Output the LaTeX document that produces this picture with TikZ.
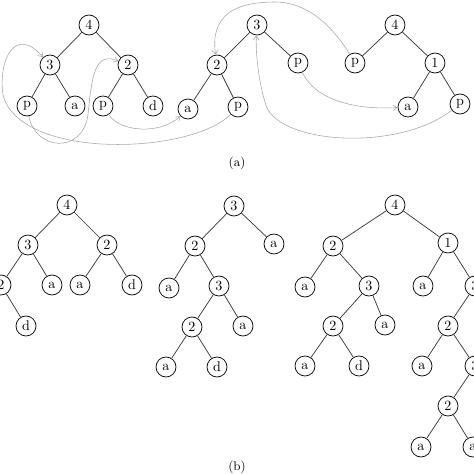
\documentclass[tikz,border=0pt]{standalone}
\usepackage{amsmath, amssymb}
\usepackage{tikz}
\usetikzlibrary{arrows.meta}

\begin{document}
\begin{tikzpicture}[x=0.025cm, y=-0.025cm,
    vert/.style={circle, draw, line width=0.5pt, minimum size=0.5cm, inner sep=0pt},
    sublabel/.style={font=\small},
    edge/.style={draw=black!80, line width=0.5pt},
    shiftarrow/.style={draw=black!35, line width=0.4pt, -{Straight Barb[length=3pt,width=4pt]}}]
    \useasboundingbox (0,0) rectangle (474,474);
    \clip (0,0) rectangle (474,474);

    % (a) Trees before and after
    \node[vert] (A_4) at (89,25) {4};
    \node[vert] (A_3) at (50,65) {3};
    \node[vert] (A_2) at (128,65) {2};
    \node[vert] (A_p1) at (27,106) {p};
    \node[vert] (A_a) at (75,106) {a};
    \node[vert] (A_p2) at (103,106) {p};
    \node[vert] (A_d) at (153,106) {d};

    \node[vert] (B_3) at (257,25) {3};
    \node[vert] (B_2) at (217,65) {2};
    \node[vert] (B_p) at (298,63) {p};
    \node[vert] (B_a) at (188,109) {a};
    \node[vert] (B_p2) at (238,107) {p};

    \node[vert] (C_4) at (395,25) {4};
    \node[vert] (C_p) at (355,63) {p};
    \node[vert] (C_1) at (435,63) {1};
    \node[vert] (C_a) at (408,107) {a};
    \node[vert] (C_p2) at (460,104) {p};

    \node[sublabel] (L_a) at (237,163) {(a)};

    % Moves - grey arrows
    \draw[shiftarrow] (A_p1) .. controls (35,150) and (82,155) .. (88,115) .. controls (92,72) and (96,52) .. (A_2);
    \draw[shiftarrow] (B_p2) .. controls (190,155) and (20,160) .. (3,95) .. controls (-2,60) and (15,25) .. (A_3);
    \draw[shiftarrow] (A_p2) .. controls (120,132) and (160,135) .. (B_a);
    \draw[shiftarrow] (C_p) .. controls (335,30) and (310,2) .. (275,2) .. controls (235,2) and (210,15) .. (B_2);
    \draw[shiftarrow] (B_p) .. controls (315,100) and (355,110) .. (C_a);
    \draw[shiftarrow] (C_p2) .. controls (400,150) and (290,145) .. (268,110) .. controls (262,98) and (255,60) .. (B_3);

    % Tree edges
    \draw[edge] (A_4) -- (A_3); \draw[edge] (A_4) -- (A_2);
    \draw[edge] (A_3) -- (A_p1); \draw[edge] (A_3) -- (A_a);
    \draw[edge] (A_2) -- (A_p2); \draw[edge] (A_2) -- (A_d);

    \draw[edge] (B_3) -- (B_2); \draw[edge] (B_3) -- (B_p);
    \draw[edge] (B_2) -- (B_a); \draw[edge] (B_2) -- (B_p2);

    \draw[edge] (C_4) -- (C_p); \draw[edge] (C_4) -- (C_1);
    \draw[edge] (C_1) -- (C_a); \draw[edge] (C_1) -- (C_p2);

    % (b) Resulting trees
    \node[vert] (D_4) at (67,205) {4};
    \node[vert] (D_3) at (28,245) {3};
    \node[vert] (D_2) at (107,245) {2};
    \node[vert] (D_2b) at (1,285) {2};
    \node[vert] (D_a) at (52,285) {a};
    \node[vert] (D_a2) at (80,285) {a};
    \node[vert] (D_d) at (132,285) {d};
    \node[vert] (D_d2) at (26,326) {d};

    \node[vert] (E_3) at (234,206) {3};
    \node[vert] (E_2) at (195,246) {2};
    \node[vert] (E_a) at (274,244) {a};
    \node[vert] (E_a2) at (169,288) {a};
    \node[vert] (E_3b) at (219,286) {3};
    \node[vert] (E_2b) at (192,327) {2};
    \node[vert] (E_a3) at (243,326) {a};
    \node[vert] (E_a4) at (166,367) {a};
    \node[vert] (E_d) at (217,367) {d};

    \node[vert] (F_4) at (395,205) {4};
    \node[vert] (F_2) at (333,246) {2};
    \node[vert] (F_1) at (448,243) {1};
    \node[vert] (F_a) at (305,287) {a};
    \node[vert] (F_3) at (369,286) {3};
    \node[vert] (F_a2) at (423,286) {a};
    \node[vert] (F_3b) at (475,286) {3};
    \node[vert] (F_2b) at (333,326) {2};
    \node[vert] (F_a3) at (385,325) {a};
    \node[vert] (F_2c) at (448,326) {2};
    \node[vert] (F_a4) at (305,366) {a};
    \node[vert] (F_d) at (359,366) {d};
    \node[vert] (F_a5) at (422,366) {a};
    \node[vert] (F_3c) at (475,366) {3};
    \node[vert] (F_2d) at (448,406) {2};
    \node[vert] (F_a6) at (421,447) {a};
    \node[vert] (F_a7) at (473,447) {a};

    \node[sublabel] (L_b) at (237,467) {(b)};

    \draw[edge] (D_4) -- (D_3); \draw[edge] (D_4) -- (D_2);
    \draw[edge] (D_3) -- (D_2b); \draw[edge] (D_3) -- (D_a);
    \draw[edge] (D_2) -- (D_a2); \draw[edge] (D_2) -- (D_d);
    \draw[edge] (D_2b) -- (D_d2);

    \draw[edge] (E_3) -- (E_2); \draw[edge] (E_3) -- (E_a);
    \draw[edge] (E_2) -- (E_a2); \draw[edge] (E_2) -- (E_3b);
    \draw[edge] (E_3b) -- (E_2b); \draw[edge] (E_3b) -- (E_a3);
    \draw[edge] (E_2b) -- (E_a4); \draw[edge] (E_2b) -- (E_d);

    \draw[edge] (F_4) -- (F_2); \draw[edge] (F_4) -- (F_1);
    \draw[edge] (F_2) -- (F_a); \draw[edge] (F_2) -- (F_3);
    \draw[edge] (F_3) -- (F_2b); \draw[edge] (F_3) -- (F_a3);
    \draw[edge] (F_2b) -- (F_a4); \draw[edge] (F_2b) -- (F_d);
    \draw[edge] (F_1) -- (F_a2); \draw[edge] (F_1) -- (F_3b);
    \draw[edge] (F_3b) -- (F_2c);
    \draw[edge] (F_2c) -- (F_a5); \draw[edge] (F_2c) -- (F_3c);
    \draw[edge] (F_3c) -- (F_2d);
    \draw[edge] (F_2d) -- (F_a6); \draw[edge] (F_2d) -- (F_a7);

\end{tikzpicture}
\end{document}
